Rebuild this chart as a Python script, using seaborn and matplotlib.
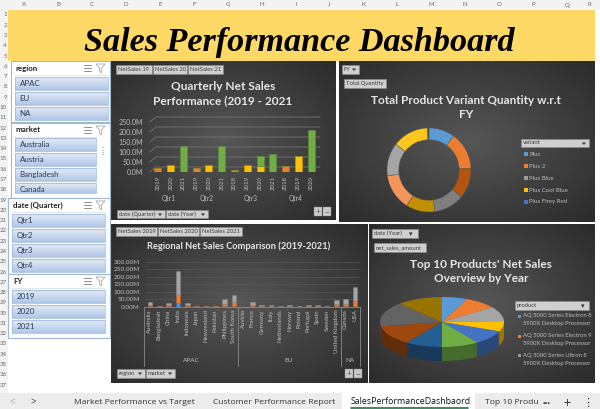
import matplotlib

matplotlib.use("Agg")
import matplotlib.pyplot as plt  # noqa: E402
import numpy as np  # noqa: E402
import seaborn as sns  # noqa: E402
from matplotlib.colors import LinearSegmentedColormap, to_rgb  # noqa: E402
from matplotlib.patches import Polygon, Rectangle  # noqa: E402

W, H = 600, 409
TEXT = "#bdbdbd"
UI = "Lato"

# quarterly chart
q_years = ["2019", "2020", "2021", "2019", "2020", "2021", "2018", "2019", "2020", "2021", "2018", "2019", "2020"]
q_sales_19 = [20, 0, 0, 22, 0, 0, 9, 0, 0, 0, 32, 0, 0]
q_sales_20 = [0, 37, 0, 0, 35, 0, 0, 33, 32, 0, 0, 82, 0]
q_sales_21 = [0, 0, 132, 0, 0, 132, 0, 0, 48, 90, 0, 0, 212]
q_ticks = [0, 50, 100, 150, 200, 250]
q_ticklabels = ["0.0M", "50.0M", "100.0M", "150.0M", "200.0M", "250.0M"]
q_groups = ["Qtr1", "Qtr2", "Qtr3", "Qtr4"]

# regional chart
markets = ["Australia", "Bangladesh", "China", "India", "Indonesia", "Japan", "Newzealand", "Pakistan",
           "Philippines", "South Korea", "Austria", "France", "Germany", "Italy", "Netherlands", "Norway",
           "Poland", "Portugal", "Spain", "Sweden", "United Kingdom", "Canada", "USA"]
r_sales_19 = [2, 0, 2, 25, 2, 0, 1, 0, 3, 5, 0, 2, 1, 1, 0, 1, 0, 1, 1, 0, 2, 3, 5]
r_sales_20 = [12, 2, 8, 55, 8, 2, 2, 2, 17, 25, 0, 11, 3, 3, 1, 3, 1, 3, 3, 1, 14, 15, 35]
r_sales_21 = [19, 3, 15, 160, 17, 3, 5, 3, 30, 50, 1, 20, 6, 6, 3, 6, 3, 5, 5, 1, 27, 32, 90]
r_ticks = [0, 50, 100, 150, 200, 250, 300]
r_ticklabels = ["0.00M", "50.00M", "100.00M", "150.00M", "200.00M", "250.00M", "300.00M"]
r_groups = ["APAC", "EU", "NA"]

# donut
variant_names = ["Plus", "Plus 2", "Plus Blue", "Plus Cool Blue", "Plus Firey Red"]
variant_qty = [36, 52, 42, 42, 40, 50, 46, 50, 2]
variant_colors = ["#5b9bd5", "#ed7d31", "#b3540f", "#7f7f7f", "#c29000", "#f4955a", "#a5a5a5", "#ffc61e", "#4a5a3a"]
legend_colors = ["#5b9bd5", "#ed7d31", "#9a9a9a", "#ffc000", "#4472c4"]

# pie
product_sales = [24, 30, 34, 24, 33, 35, 35, 45, 57, 43]
product_colors = ["#5b9bd5", "#ed7d31", "#a5a5a5", "#ffc000", "#4472c4", "#70ad47", "#255e91", "#9e480e", "#636363", "#997300"]
product_names = [("AQ 5000 Series Electron 8", "5900X Desktop Processor"),
                 ("AQ 5000 Series Electron 9", "5900X Desktop Processor"),
                 ("AQ 5000 Series Ultron 8", "5900X Desktop Processor")]

sns.set_theme(style="dark")
plt.rcParams["font.family"] = [UI, "DejaVu Sans"]

fig = plt.figure(figsize=(W / 100, H / 100), dpi=100, facecolor="white")
base = fig.add_axes([0, 0, 1, 1])
base.axis("off")

blue_map = LinearSegmentedColormap.from_list("slicer", ["#dbe5f4", "#a9c0e4"])


def px_axes(x0, y0, x1, y1):
    return fig.add_axes([x0 / W, 1 - y1 / H, (x1 - x0) / W, (y1 - y0) / H], facecolor="none")


def panel(x0, y0, x1, y1):
    yy, xx = np.mgrid[-1:1:120j, -1:1:160j]
    r = np.clip(np.sqrt(xx**2 + yy**2) / 1.4, 0, 1)
    base.imshow(0.34 - 0.17 * r, extent=(x0, x1, y1, y0), cmap="gray", vmin=0, vmax=1, aspect="auto", zorder=1)


def button(x0, y0, x1, y1, label, arrow=False, size=4.2):
    base.add_patch(Rectangle((x0, y0), x1 - x0, y1 - y0, fc="#cfcfcf", ec="#8c8c8c", lw=0.4, zorder=3))
    base.text(x0 + 2, (y0 + y1) / 2, label, fontsize=size, color="#3a3a3a", va="center", zorder=4)
    if arrow:
        base.add_patch(Polygon([(x1 - 7, y0 + 3.5), (x1 - 3, y0 + 3.5), (x1 - 5, y0 + 6)], fc="#333333", ec="none", zorder=4))


def plus_minus(x0, y0):
    for dx, sign in [(0, "+"), (9, "−")]:
        base.add_patch(Rectangle((x0 + dx, y0), 7.5, 9, fc="#c9c9c9", ec="#8c8c8c", lw=0.3, zorder=3))
        base.text(x0 + dx + 3.7, y0 + 4.5, sign, fontsize=6, color="#555555", ha="center", va="center", zorder=4)


def slicer(x0, y0, x1, y1, title, items, bx0, bx1, first_y, clip=None):
    base.add_patch(Rectangle((x0, y0), x1 - x0, y1 - y0, fc="white", ec="#9db8d2", lw=0.8, zorder=2))
    base.text(bx0 + 1, y0 + 7, title, fontsize=5.7, fontweight="bold", color="#222222", va="center", zorder=6)
    base.plot([bx0, bx1], [y0 + 13.5, y0 + 13.5], color="#d8e2ee", lw=0.6, zorder=3)
    # select-all and filter icons
    ix = x1 - 26
    for k in range(3):
        base.plot([ix, ix + 7], [y0 + 4 + k * 3] * 2, color="#777777", lw=0.6, zorder=6)
    fx = x1 - 14
    base.add_patch(Polygon([(fx, y0 + 3), (fx + 9, y0 + 3), (fx + 5.5, y0 + 7), (fx + 5.5, y0 + 12), (fx + 3.5, y0 + 10), (fx + 3.5, y0 + 7)],
                           fc="white", ec="#aaaaaa", lw=0.6, zorder=6))
    grad = np.abs(np.linspace(0, 1, 30).reshape(-1, 1) - 0.15)
    for i, item in enumerate(items):
        top = first_y + i * 15
        bot = top + 13
        if clip is not None:
            bot = min(bot, clip)
        base.imshow(grad, extent=(bx0, bx1, bot, top), cmap=blue_map, vmin=0, vmax=1, aspect="auto", zorder=3)
        base.add_patch(Rectangle((bx0, top), bx1 - bx0, bot - top, fc="none", ec="#9bb3d8", lw=0.5, zorder=4))
        base.text(bx0 + 4.5, top + 6.3, item, fontsize=5.7, color="#2b3a55", va="center", zorder=5)


# sheet chrome
base.add_patch(Rectangle((0, 0), W, 10, fc="#f3f3f3", ec="none", zorder=1))
base.add_patch(Rectangle((0, 0), 8, 393, fc="#f3f3f3", ec="none", zorder=1))
for letter, cx in zip("ABCDEFGHIJKLMNOPQR", [24, 58, 92, 126, 160, 194, 228, 262, 296, 329, 363, 397, 431, 465, 499, 533, 567, 589]):
    base.text(cx, 5, letter, fontsize=4.4, color="#666666", ha="center", va="center", zorder=2)
for row in range(1, 38):
    base.text(7, 15 + (row - 1) * 10.28, str(row), fontsize=4.4, color="#666666", ha="right", va="center", zorder=2)
base.add_patch(Rectangle((8, 10), 587, 51, fc="#ffd966", ec="none", zorder=1))
base.text(299, 42, "Sales Performance Dashboard", fontsize=24.6, family="Liberation Serif", fontweight="bold",
          fontstyle="italic", color="black", ha="center", va="center", zorder=2)

# slicers
slicer(11, 61, 110, 122, "region", ["APAC", "EU", "NA"], 15, 108, 77)
slicer(11, 123, 110, 198, "market", ["Australia", "Austria", "Bangladesh", "Canada"], 15, 96, 138, clip=193)
base.text(103, 151, "⁞", fontsize=6, color="#666666", ha="center", va="center", zorder=6)
slicer(8, 198, 110, 274, "date (Quarter)", ["Qtr1", "Qtr2", "Qtr3", "Qtr4"], 12, 105, 214)
slicer(8, 274, 110, 338, "FY", ["2019", "2020", "2021"], 12, 105, 290)

# chart panels
panel(111, 61, 336, 220)
panel(339, 61, 595, 222)
panel(111, 224, 368, 383)
panel(369, 224, 595, 383)


def chart_title(cx, lines, ys, size):
    for line, y in zip(lines, ys):
        base.text(cx, y, line, fontsize=size, fontweight="bold", color="#e6e6e6", ha="center", va="center", zorder=4)


def stacked_bars(ax, labels, series, colors, width):
    slots = np.arange(len(labels))
    bottom = np.zeros(len(labels))
    for values, color in zip(series, colors):
        sns.barplot(x=slots, y=values, bottom=bottom, color=color, saturation=1, width=width, errorbar=None,
                    linewidth=0.4, edgecolor=[c * 0.8 for c in to_rgb(color)], ax=ax, zorder=3)
        bottom = bottom + np.array(values)


# quarterly net sales
ax1 = px_axes(151.6, 122, 317.4, 172)
stacked_bars(ax1, q_years, [q_sales_19, q_sales_20, q_sales_21], ["#ed7d31", "#ffc000", "#70ad47"], 0.55)
ax1.set_xlim(-0.5, 12.5)
ax1.set_ylim(0, 250)
for t in q_ticks:
    ax1.plot([-0.65, -0.15, 12.7], [t, t + 25, t + 25], color="#6e6e6e", lw=0.7, clip_on=False, zorder=1)
ax1.set_yticks(q_ticks, q_ticklabels)
ax1.set_xticks(range(len(q_years)), q_years, rotation=90)
ax1.tick_params(axis="y", length=0, pad=6, labelsize=5.0, labelcolor=TEXT)
ax1.tick_params(axis="x", length=0, pad=3, labelsize=4.4, labelcolor=TEXT)
ax1.set_xlabel("")
ax1.set_ylabel("")
sns.despine(ax=ax1, left=True, bottom=True)
for label, cx in zip(q_groups, [169, 207, 251, 296]):
    base.text(cx, 198, label, fontsize=4.8, color=TEXT, ha="center", va="center", zorder=4)
for x0, x1, label in [(116, 152, "NetSales 19"), (153, 187, "NetSales 20"), (188, 223, "NetSales 21")]:
    button(x0, 65, x1, 74, label)
button(117, 210, 165, 218, "date (Quarter)", arrow=True)
button(166, 210, 208, 218, "date (Year)", arrow=True)
plus_minus(314, 207)
chart_title(223, ["Quarterly Net Sales", "Performance (2019 - 2021"], [87, 101], 8.6)

# product variant donut
ax2 = px_axes(387, 128, 471, 212)
ax2.pie(variant_qty, colors=variant_colors, startangle=90, counterclock=False, radius=1,
        wedgeprops={"width": 0.28, "linewidth": 0.3, "edgecolor": "#555555"})
ax2.set_xlim(-1, 1)
ax2.set_ylim(-1, 1)
button(342, 65, 359, 74, "FY", arrow=True)
button(344, 79, 386, 88, "Total Quantity")
chart_title(466, ["Total Product Variant Quantity w.r.t", "FY"], [101, 115], 8.5)
button(521, 139, 589, 147, "variant", arrow=True)
for name, color, y in zip(variant_names, legend_colors, [154, 166, 178, 190, 202]):
    base.add_patch(Rectangle((524, y - 1.7), 3.5, 3.5, fc=color, ec="none", zorder=4))
    base.text(529, y, name, fontsize=4.4, color=TEXT, va="center", zorder=4)

# regional net sales
ax3 = px_axes(145.3, 261.7, 359.7, 306.7)
stacked_bars(ax3, markets, [r_sales_19, r_sales_20, r_sales_21], ["#4f8fd0", "#ed7d31", "#a5a5a5"], 0.5)
ax3.set_xlim(-0.5, 22.5)
ax3.set_ylim(0, 300)
ax3.hlines(r_ticks, -0.5, 22.5, color="#5c5c5c", lw=0.4, zorder=1)
ax3.set_yticks(r_ticks, r_ticklabels)
ax3.set_xticks(range(len(markets)), markets, rotation=90)
ax3.tick_params(axis="y", length=0, pad=4, labelsize=4.6, labelcolor=TEXT)
ax3.tick_params(axis="x", length=0, pad=2, labelsize=4.4, labelcolor=TEXT)
ax3.set_xlabel("")
ax3.set_ylabel("")
sns.despine(ax=ax3, left=True, bottom=True)
base.plot([144, 360], [306.7, 306.7], color="#8a8a8a", lw=0.6, zorder=4)
for sep in [144, 238, 341, 360]:
    base.plot([sep, sep], [306.7, 366], color="#8a8a8a", lw=0.6, zorder=4)
for label, cx in zip(r_groups, [191, 289, 350]):
    base.text(cx, 361, label, fontsize=4.6, color=TEXT, ha="center", va="center", zorder=4)
for x0, x1, label in [(116, 157, "NetSales 2019"), (158, 199, "NetSales 2020"), (200, 242, "NetSales 2021")]:
    button(x0, 227, x1, 236, label)
button(117, 369, 145, 378, "region", arrow=True)
button(146, 369, 175, 378, "market", arrow=True)
plus_minus(345, 369)
chart_title(239, ["Regional Net Sales Comparison (2019-2021)"], [246.5], 6.7)

# top products 3d pie
ax4 = px_axes(380, 297, 504, 361)
depth_layers = np.linspace(14 / 25, 0.02, 15)
dark_colors = [tuple(c * 0.62 for c in to_rgb(col)) for col in product_colors]
for depth in depth_layers:
    ax4.pie(product_sales, colors=dark_colors, startangle=90, counterclock=False, radius=1, center=(0, -depth),
            wedgeprops={"linewidth": 0})
ax4.pie(product_sales, colors=product_colors, startangle=90, counterclock=False, radius=1, center=(0, 0),
        wedgeprops={"linewidth": 0})
ax4.set_aspect("auto")
ax4.set_xlim(-1, 1)
ax4.set_ylim(-1 - 14 / 25, 1)
button(372, 229, 418, 238, "date (Year)")
base.text(411, 233.5, "▾", fontsize=5, color="#333333", ha="center", va="center", zorder=5)
button(374, 243, 426, 252, "net_sales_amount")
chart_title(481, ["Top 10 Products' Net Sales", "Overview by Year"], [265, 279], 8.5)
button(515, 301, 589, 310, "product")
base.text(583, 305.5, "▾", fontsize=5, color="#333333", ha="center", va="center", zorder=5)
for (line1, line2), color, y in zip(product_names, legend_colors, [316, 336, 355]):
    base.add_patch(Rectangle((518, y - 1.5), 3, 3, fc=color, ec="none", zorder=4))
    base.text(523, y, line1, fontsize=4.2, color=TEXT, va="center", zorder=4)
    base.text(523, y + 8, line2, fontsize=4.2, color=TEXT, va="center", zorder=4)

# sheet tabs
base.add_patch(Rectangle((0, 393), 342, 16, fc="#ececec", ec="none", zorder=1))
base.add_patch(Rectangle((475, 393), 125, 16, fc="#ececec", ec="none", zorder=1))
base.text(12, 403, "<", fontsize=7, color="#aaaaaa", ha="center", va="center", family="Open Sans", zorder=2)
base.text(33, 403, ">", fontsize=7, color="#444444", ha="center", va="center", family="Open Sans", zorder=2)
for label, x in [("Market Performance vs Target", 74), ("Customer Performance Report", 213), ("Top 10 Produ", 485)]:
    base.text(x, 403, label, fontsize=6.1, color="#333333", va="center", family="Open Sans", zorder=2)
base.text(351, 401, "SalesPerformanceDashbaord", fontsize=6.3, color="#111111", va="center", family="Open Sans", zorder=2)
base.plot([351, 468], [408, 408], color="#217346", lw=1.2, zorder=2)
base.text(547, 403, "···", fontsize=7, color="#333333", ha="center", va="center", fontweight="bold", zorder=2)
base.text(567, 403, "+", fontsize=9, color="#333333", ha="center", va="center", zorder=2)
base.text(588, 403, "⋮", fontsize=8, color="#333333", ha="center", va="center", family="DejaVu Sans", zorder=2)

base.set_xlim(0, W)
base.set_ylim(H, 0)

fig.savefig("out.png", dpi=100, facecolor="white")
plt.close(fig)
